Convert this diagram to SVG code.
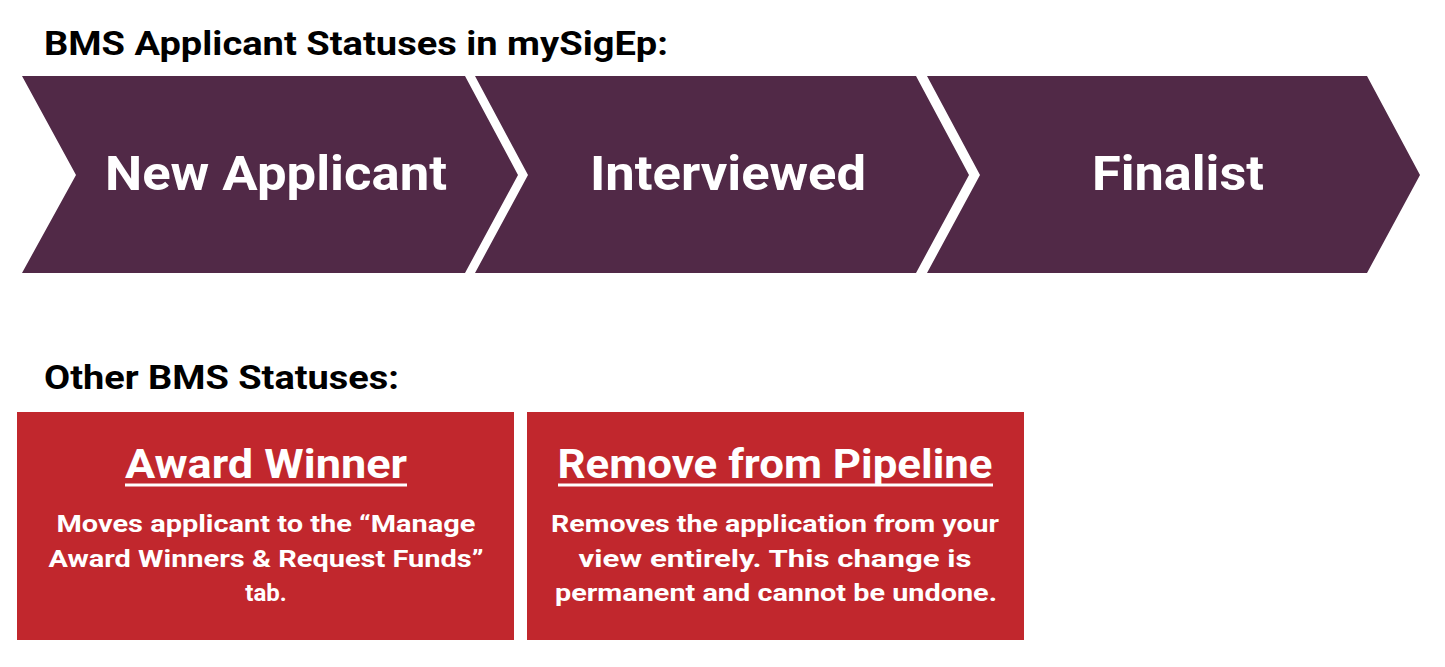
<svg xmlns="http://www.w3.org/2000/svg" width="1445" height="667" viewBox="0 0 1445 667">
<style>
text{font-family:Roboto,"Liberation Sans",sans-serif;font-weight:bold}
.h{font-size:34px;fill:#000}
.c{font-size:48px;fill:#fff;text-anchor:middle}
.chev{fill:#512947}
.box{fill:#c1272d}
.t{font-size:40px;fill:#fff;text-anchor:middle}
.b{font-size:24px;fill:#fff;text-anchor:middle}
.u{stroke:#fff;stroke-width:3}
</style>
<rect width="1445" height="667" fill="#fff"/>
<text class="h" x="44" y="55" textLength="624" lengthAdjust="spacingAndGlyphs">BMS Applicant Statuses in mySigEp:</text>
<g id="new-applicant"><polygon class="chev" points="22,76 465,76 518,175 465,273 22,273 76,175"/><text class="c" x="276" y="190" textLength="342" lengthAdjust="spacingAndGlyphs">New Applicant</text></g>
<g id="interviewed"><polygon class="chev" points="475,76 916,76 969,175 916,273 475,273 528,175"/><text class="c" x="728" y="190" textLength="276" lengthAdjust="spacingAndGlyphs">Interviewed</text></g>
<g id="finalist"><polygon class="chev" points="927,76 1367,76 1420,175 1367,273 927,273 980,175"/><text class="c" x="1178" y="190" textLength="172" lengthAdjust="spacingAndGlyphs">Finalist</text></g>
<text class="h" x="44" y="389" textLength="355" lengthAdjust="spacingAndGlyphs">Other BMS Statuses:</text>
<g id="award-winner"><rect class="box" x="17" y="412" width="497" height="228"/>
<text class="t" x="266" y="478" textLength="282" lengthAdjust="spacingAndGlyphs">Award Winner</text><line class="u" x1="125" y1="485" x2="407" y2="485"/>
<text class="b" x="266" y="532" textLength="419" lengthAdjust="spacingAndGlyphs">Moves applicant to the “Manage</text>
<text class="b" x="266" y="567" textLength="435" lengthAdjust="spacingAndGlyphs">Award Winners &amp; Request Funds”</text>
<text class="b" x="266" y="601">tab.</text></g>
<g id="remove-from-pipeline"><rect class="box" x="527" y="412" width="497" height="228"/>
<text class="t" x="775" y="478" textLength="435" lengthAdjust="spacingAndGlyphs">Remove from Pipeline</text><line class="u" x1="558" y1="485" x2="993" y2="485"/>
<text class="b" x="775" y="532" textLength="448" lengthAdjust="spacingAndGlyphs">Removes the application from your</text>
<text class="b" x="775" y="567" textLength="393" lengthAdjust="spacingAndGlyphs">view entirely. This change is</text>
<text class="b" x="776" y="601" textLength="442" lengthAdjust="spacingAndGlyphs">permanent and cannot be undone.</text></g>
<g id="connectors"></g>
</svg>
